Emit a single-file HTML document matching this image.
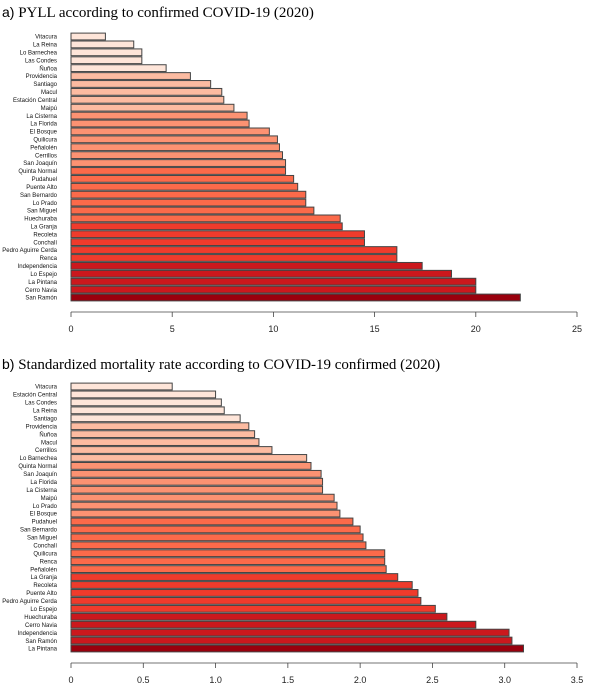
<!DOCTYPE html>
<html><head><meta charset="utf-8"><style>
html,body{margin:0;padding:0;background:#fff;width:611px;height:685px;overflow:hidden}
svg{display:block}
.t{font-family:"Liberation Serif",serif;font-size:15px;fill:#000}
.ts{font-family:"Liberation Sans",sans-serif;font-size:14px}
.lab{font-family:"Liberation Sans",sans-serif;font-size:6px;fill:#111}
.tk{font-family:"Liberation Sans",sans-serif;font-size:9px;fill:#222}
</style></head><body>
<svg id="chart" width="611" height="685">
<text class="t" x="2" y="17"><tspan class="ts">a)</tspan>  PYLL according to confirmed COVID-19 (2020)</text>
<text class="t" x="2" y="369"><tspan class="ts">b)</tspan>  Standardized mortality rate according to COVID-19 confirmed (2020)</text>
<g id="ga"></g><g id="gb"></g>
</svg>
<script>
const catsA=["Vitacura","La Reina","Lo Barnechea","Las Condes","Ñuñoa","Providencia","Santiago","Macul","Estación Central","Maipú","La Cisterna","La Florida","El Bosque","Quilicura","Peñalolén","Cerrillos","San Joaquín","Quinta Normal","Pudahuel","Puente Alto","San Bernardo","Lo Prado","San Miguel","Huechuraba","La Granja","Recoleta","Conchalí","Pedro Aguirre Cerda","Renca","Independencia","Lo Espejo","La Pintana","Cerro Navia","San Ramón"];
const valsA=[1.7,3.1,3.5,3.5,4.7,5.9,6.9,7.45,7.55,8.05,8.7,8.8,9.8,10.2,10.3,10.45,10.6,10.6,11.0,11.2,11.6,11.6,12.0,13.3,13.4,14.5,14.5,16.1,16.1,17.35,18.8,20.0,20.0,22.2];
const classA=[0,0,0,0,0,1,1,1,1,1,2,2,2,2,2,2,2,3,3,3,3,3,3,3,4,4,4,4,4,5,5,5,5,6];
const ticksA=[0,5,10,15,20,25];
const tickLabelsA=["0","5","10","15","20","25"];
const catsB=["Vitacura","Estación Central","Las Condes","La Reina","Santiago","Providencia","Ñuñoa","Macul","Cerrillos","Lo Barnechea","Quinta Normal","San Joaquín","La Florida","La Cisterna","Maipú","Lo Prado","El Bosque","Pudahuel","San Bernardo","San Miguel","Conchalí","Quilicura","Renca","Peñalolén","La Granja","Recoleta","Puente Alto","Pedro Aguirre Cerda","Lo Espejo","Huechuraba","Cerro Navia","Independencia","San Ramón","La Pintana"];
const valsB=[0.70,1.0,1.04,1.06,1.17,1.23,1.27,1.30,1.39,1.63,1.66,1.73,1.74,1.74,1.82,1.84,1.86,1.95,2.0,2.02,2.04,2.17,2.17,2.18,2.26,2.36,2.40,2.42,2.52,2.60,2.80,3.03,3.05,3.13];
const classB=[0,0,0,0,0,1,1,1,1,1,2,2,2,2,2,2,2,3,3,3,3,3,3,3,4,4,4,4,4,5,5,5,5,6];
const ticksB=[0,0.5,1,1.5,2,2.5,3,3.5];
const tickLabelsB=["0","0.5","1.0","1.5","2.0","2.5","3.0","3.5"];
const pal=["#fee5d9","#fcbba1","#fc9272","#fb6a4a","#ef3b2c","#cb181d","#99000d"];
const NS="http://www.w3.org/2000/svg";
function mk(t,a){const e=document.createElementNS(NS,t);for(const k in a)e.setAttribute(k,a[k]);return e;}
function draw(gid,cats,vals,cls,ticks,tl,max,y0,y1,axisY,pref){
  const g=document.getElementById(gid);
  const x=v=>71+v*(577-71)/max;
  const step=(y1-y0)/(cats.length-1);
  const y=i=>y0+i*step;
  cats.forEach((c,i)=>{
    const r=mk("rect",{x:x(0),y:y(i)-3.4,width:x(vals[i])-x(0),height:6.8,fill:pal[cls[i]],stroke:"#444","stroke-width":1});
    
    
    g.appendChild(r);
    const t=mk("text",{x:57,y:y(i)+2.2,"text-anchor":"end",class:"lab"});t.textContent=c;
    
    
    g.appendChild(t);
  });
  const ax=mk("line",{x1:x(0),x2:x(max),y1:axisY,y2:axisY,stroke:"#444","stroke-width":0.8});
  
  
  g.appendChild(ax);
  ticks.forEach((v,i)=>{
    const l=mk("line",{x1:x(v),x2:x(v),y1:axisY,y2:axisY+5,stroke:"#444","stroke-width":0.8});
    
    
    g.appendChild(l);
    const t=mk("text",{x:x(v),y:axisY+20,"text-anchor":"middle",class:"tk"});t.textContent=tl[i];
    
    
    g.appendChild(t);
  });
}
draw("ga",catsA,valsA,classA,ticksA,tickLabelsA,25,36.5,297.5,312,"chart-a");
draw("gb",catsB,valsB,classB,ticksB,tickLabelsB,3.5,386.5,648.5,663,"chart-b");
</script>
</body></html>
